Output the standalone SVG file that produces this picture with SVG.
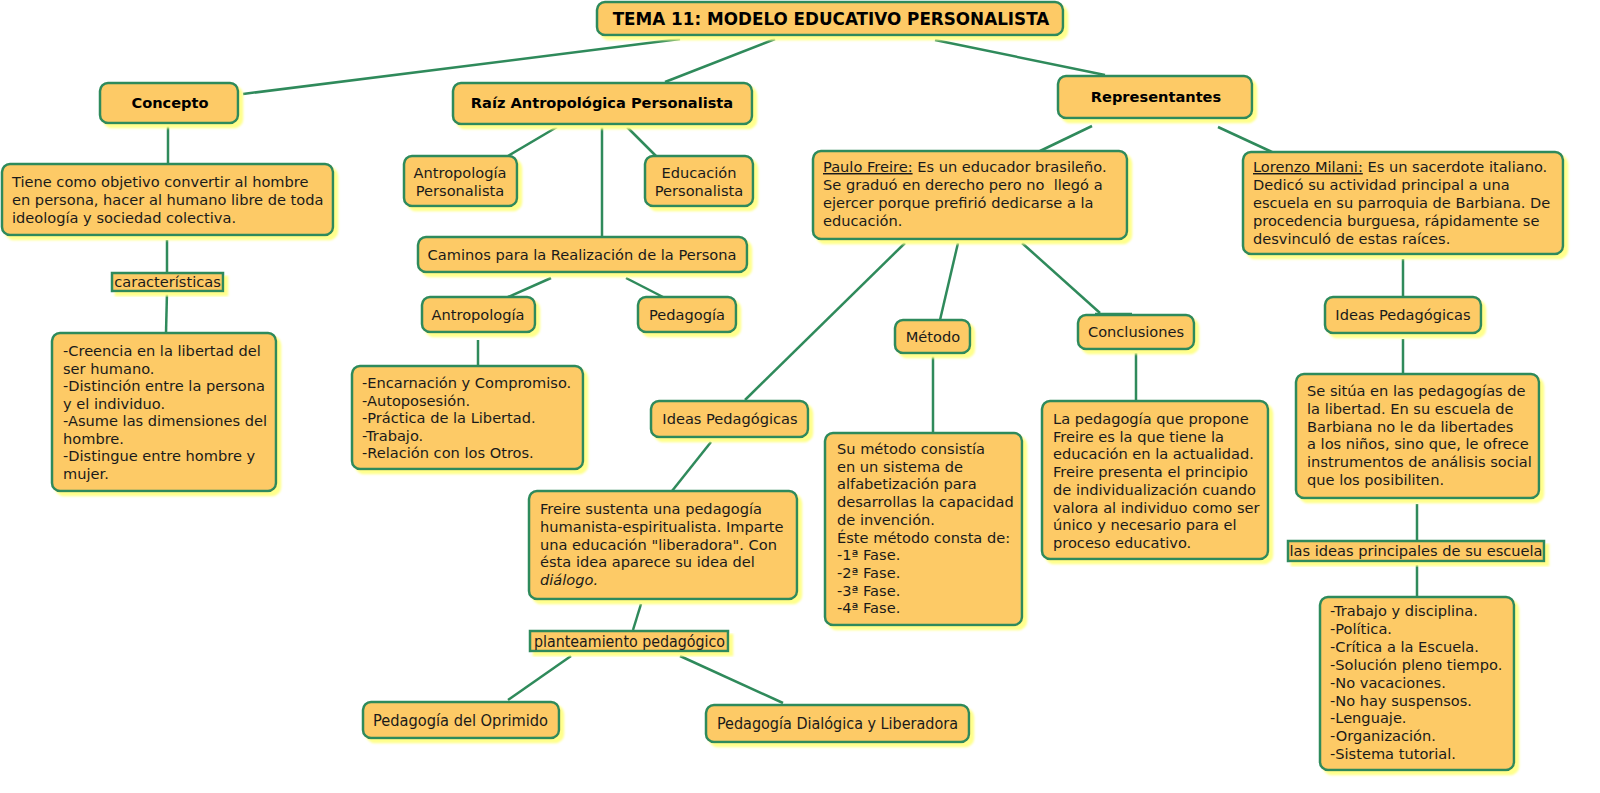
<svg xmlns="http://www.w3.org/2000/svg" width="1600" height="793" viewBox="0 0 1600 793">
<style>
.box{fill:#fdca66;stroke:#2f8a5b;stroke-width:2.5;filter:url(#sh)}
.con line{stroke:#2f8a5b;stroke-width:2.5}
.t{font-family:"DejaVu Sans",Verdana,sans-serif;font-size:14.6px;fill:#1a1a1a}
.c{text-anchor:middle}
.b{font-weight:bold;font-size:14.6px;fill:#000}
.n{font-family:"DejaVu Sans Condensed","DejaVu Sans",sans-serif;font-size:16px}
.u{text-decoration:underline}
</style>
<defs>
<filter id="sh" x="-10%" y="-10%" width="130%" height="140%">
<feGaussianBlur in="SourceAlpha" stdDeviation="1.2" result="b"/>
<feOffset in="b" dx="4" dy="4" result="o"/>
<feFlood flood-color="#ffff8c"/>
<feComposite in2="o" operator="in" result="s"/>
<feMerge><feMergeNode in="s"/><feMergeNode in="SourceGraphic"/></feMerge>
</filter>
</defs>
<rect width="1600" height="793" fill="#fff"/>
<g class="con" id="connectors">
<line x1="243" y1="94" x2="680" y2="39"/>
<line x1="665" y1="82" x2="775" y2="39"/>
<line x1="935" y1="40" x2="1105" y2="75"/>
<line x1="168" y1="126" x2="168" y2="163"/>
<line x1="167" y1="240" x2="167" y2="272"/>
<line x1="167" y1="292" x2="166" y2="333"/>
<line x1="557" y1="127" x2="508" y2="156"/>
<line x1="627" y1="127" x2="656" y2="156"/>
<line x1="602" y1="127" x2="602" y2="236"/>
<line x1="551" y1="278" x2="508" y2="297"/>
<line x1="626" y1="278" x2="663" y2="297"/>
<line x1="478" y1="340" x2="478" y2="365"/>
<line x1="1092" y1="126" x2="1040" y2="151"/>
<line x1="1218" y1="127" x2="1272" y2="152"/>
<line x1="905" y1="243" x2="745" y2="400"/>
<line x1="958" y1="243" x2="940" y2="320"/>
<line x1="1022" y1="243" x2="1100" y2="313"/>
<line x1="1095" y1="314" x2="1132" y2="314"/>
<line x1="933" y1="356" x2="933" y2="432"/>
<line x1="1136" y1="353" x2="1136" y2="401"/>
<line x1="711" y1="442" x2="672" y2="491"/>
<line x1="641" y1="604" x2="633" y2="630"/>
<line x1="571" y1="656" x2="508" y2="700"/>
<line x1="680" y1="656" x2="783" y2="703"/>
<line x1="1403" y1="259" x2="1403" y2="296"/>
<line x1="1403" y1="339" x2="1403" y2="373"/>
<line x1="1417" y1="504" x2="1417" y2="540"/>
<line x1="1417" y1="565" x2="1417" y2="596"/>
</g>
<g id="title"><rect class="box" x="597" y="2" width="466" height="33" rx="8"/><text class="t c b" x="831" y="25" style="font-size:16.8px">TEMA 11: MODELO EDUCATIVO PERSONALISTA</text></g>
<g id="concepto"><rect class="box" x="100" y="83" width="138" height="40" rx="8"/><text class="t c b" x="170" y="108">Concepto</text></g>
<g id="raiz"><rect class="box" x="453" y="83" width="299" height="41" rx="8"/><text class="t c b" x="602" y="108">Raíz Antropológica Personalista</text></g>
<g id="representantes"><rect class="box" x="1058" y="76" width="194" height="42" rx="8"/><text class="t c b" x="1156" y="102">Representantes</text></g>
<g id="tiene"><rect class="box" x="2" y="164" width="331" height="71" rx="8"/><text class="t" x="12" y="187"><tspan x="12">Tiene como objetivo convertir al hombre</tspan><tspan x="12" dy="18">en persona, hacer al humano libre de toda</tspan><tspan x="12" dy="18">ideología y sociedad colectiva.</tspan></text></g>
<g id="caracteristicas"><rect class="box" x="112" y="273" width="111" height="18"/><text class="t c" x="167.5" y="287">características</text></g>
<g id="creencia"><rect class="box" x="52" y="333" width="224" height="158" rx="8"/><text class="t" x="63" y="356"><tspan x="63">-Creencia en la libertad del</tspan><tspan x="63" dy="17.5">ser humano.</tspan><tspan x="63" dy="17.5">-Distinción entre la persona</tspan><tspan x="63" dy="17.5">y el individuo.</tspan><tspan x="63" dy="17.5">-Asume las dimensiones del</tspan><tspan x="63" dy="17.5">hombre.</tspan><tspan x="63" dy="17.5">-Distingue entre hombre y</tspan><tspan x="63" dy="17.5">mujer.</tspan></text></g>
<g id="antropers"><rect class="box" x="404" y="156" width="113" height="50" rx="8"/><text class="t c" x="460" y="178"><tspan x="460">Antropología</tspan><tspan x="460" dy="18">Personalista</tspan></text></g>
<g id="educpers"><rect class="box" x="645" y="156" width="108" height="50" rx="8"/><text class="t c" x="699" y="178"><tspan x="699">Educación</tspan><tspan x="699" dy="18">Personalista</tspan></text></g>
<g id="caminos"><rect class="box" x="418" y="237" width="329" height="35" rx="8"/><text class="t c" x="582" y="260">Caminos para la Realización de la Persona</text></g>
<g id="antropologia"><rect class="box" x="422" y="297" width="113" height="35" rx="8"/><text class="t c" x="478" y="320">Antropología</text></g>
<g id="pedagogia"><rect class="box" x="638" y="297" width="98" height="35" rx="8"/><text class="t c" x="687" y="320">Pedagogía</text></g>
<g id="encarnacion"><rect class="box" x="352" y="366" width="231" height="103" rx="8"/><text class="t" x="362" y="388"><tspan x="362">-Encarnación y Compromiso.</tspan><tspan x="362" dy="17.6">-Autoposesión.</tspan><tspan x="362" dy="17.6">-Práctica de la Libertad.</tspan><tspan x="362" dy="17.6">-Trabajo.</tspan><tspan x="362" dy="17.6">-Relación con los Otros.</tspan></text></g>
<g id="paulo"><rect class="box" x="813" y="151" width="314" height="88" rx="8"/><text class="t" x="823" y="172"><tspan x="823"><tspan class="u">Paulo Freire:</tspan> Es un educador brasileño.</tspan><tspan x="823" dy="18">Se graduó en derecho pero no&#160; llegó a</tspan><tspan x="823" dy="18">ejercer porque prefirió dedicarse a la</tspan><tspan x="823" dy="18">educación.</tspan></text></g>
<g id="lorenzo"><rect class="box" x="1243" y="152" width="320" height="102" rx="8"/><text class="t" x="1253" y="172"><tspan x="1253"><tspan class="u">Lorenzo Milani:</tspan> Es un sacerdote italiano.</tspan><tspan x="1253" dy="18">Dedicó su actividad principal a una</tspan><tspan x="1253" dy="18">escuela en su parroquia de Barbiana. De</tspan><tspan x="1253" dy="18">procedencia burguesa, rápidamente se</tspan><tspan x="1253" dy="18">desvinculó de estas raíces.</tspan></text></g>
<g id="ideas1"><rect class="box" x="651" y="401" width="157" height="36" rx="8"/><text class="t c" x="730" y="424">Ideas Pedagógicas</text></g>
<g id="metodo"><rect class="box" x="895" y="320" width="75" height="33" rx="8"/><text class="t c" x="933" y="342">Método</text></g>
<g id="conclusiones"><rect class="box" x="1078" y="315" width="116" height="34" rx="8"/><text class="t c" x="1136" y="337">Conclusiones</text></g>
<g id="metodobox"><rect class="box" x="825" y="433" width="197" height="192" rx="8"/><text class="t" x="837" y="454"><tspan x="837">Su método consistía</tspan><tspan x="837" dy="17.7">en un sistema de</tspan><tspan x="837" dy="17.7">alfabetización para</tspan><tspan x="837" dy="17.7">desarrollas la capacidad</tspan><tspan x="837" dy="17.7">de invención.</tspan><tspan x="837" dy="17.7">Éste método consta de:</tspan><tspan x="837" dy="17.7">-1ª Fase.</tspan><tspan x="837" dy="17.7">-2ª Fase.</tspan><tspan x="837" dy="17.7">-3ª Fase.</tspan><tspan x="837" dy="17.7">-4ª Fase.</tspan></text></g>
<g id="conclbox"><rect class="box" x="1042" y="401" width="226" height="158" rx="8"/><text class="t" x="1053" y="424"><tspan x="1053">La pedagogía que propone</tspan><tspan x="1053" dy="17.7">Freire es la que tiene la</tspan><tspan x="1053" dy="17.7">educación en la actualidad.</tspan><tspan x="1053" dy="17.7">Freire presenta el principio</tspan><tspan x="1053" dy="17.7">de individualización cuando</tspan><tspan x="1053" dy="17.7">valora al individuo como ser</tspan><tspan x="1053" dy="17.7">único y necesario para el</tspan><tspan x="1053" dy="17.7">proceso educativo.</tspan></text></g>
<g id="freire"><rect class="box" x="529" y="491" width="268" height="108" rx="8"/><text class="t" x="540" y="514"><tspan x="540">Freire sustenta una pedagogía</tspan><tspan x="540" dy="17.8">humanista-espiritualista. Imparte</tspan><tspan x="540" dy="17.8">una educación "liberadora". Con</tspan><tspan x="540" dy="17.8">ésta idea aparece su idea del</tspan><tspan x="540" dy="17.8" font-style="italic">diálogo.</tspan></text></g>
<g id="planteamiento"><rect class="box" x="530" y="631" width="198" height="20"/><text class="t n" x="534" y="647" textLength="191" lengthAdjust="spacingAndGlyphs">planteamiento pedagógico</text></g>
<g id="oprimido"><rect class="box" x="363" y="702" width="196" height="36" rx="8"/><text class="t n" x="373" y="726" textLength="175" lengthAdjust="spacingAndGlyphs">Pedagogía del Oprimido</text></g>
<g id="dialogica"><rect class="box" x="706" y="705" width="263" height="37" rx="8"/><text class="t n" x="717" y="729" textLength="241" lengthAdjust="spacingAndGlyphs">Pedagogía Dialógica y Liberadora</text></g>
<g id="ideas2"><rect class="box" x="1325" y="297" width="156" height="36" rx="8"/><text class="t c" x="1403" y="320">Ideas Pedagógicas</text></g>
<g id="situa"><rect class="box" x="1296" y="374" width="243" height="124" rx="8"/><text class="t" x="1307" y="396"><tspan x="1307">Se sitúa en las pedagogías de</tspan><tspan x="1307" dy="17.8">la libertad. En su escuela de</tspan><tspan x="1307" dy="17.8">Barbiana no le da libertades</tspan><tspan x="1307" dy="17.8">a los niños, sino que, le ofrece</tspan><tspan x="1307" dy="17.8">instrumentos de análisis social</tspan><tspan x="1307" dy="17.8">que los posibiliten.</tspan></text></g>
<g id="ideasprinc"><rect class="box" x="1288" y="541" width="256" height="20"/><text class="t c" x="1416" y="556">las ideas principales de su escuela</text></g>
<g id="lista"><rect class="box" x="1320" y="597" width="194" height="173" rx="8"/><text class="t" x="1330" y="616"><tspan x="1330">-Trabajo y disciplina.</tspan><tspan x="1330" dy="17.9">-Política.</tspan><tspan x="1330" dy="17.9">-Crítica a la Escuela.</tspan><tspan x="1330" dy="17.9">-Solución pleno tiempo.</tspan><tspan x="1330" dy="17.9">-No vacaciones.</tspan><tspan x="1330" dy="17.9">-No hay suspensos.</tspan><tspan x="1330" dy="17.9">-Lenguaje.</tspan><tspan x="1330" dy="17.9">-Organización.</tspan><tspan x="1330" dy="17.9">-Sistema tutorial.</tspan></text></g>
</svg>
